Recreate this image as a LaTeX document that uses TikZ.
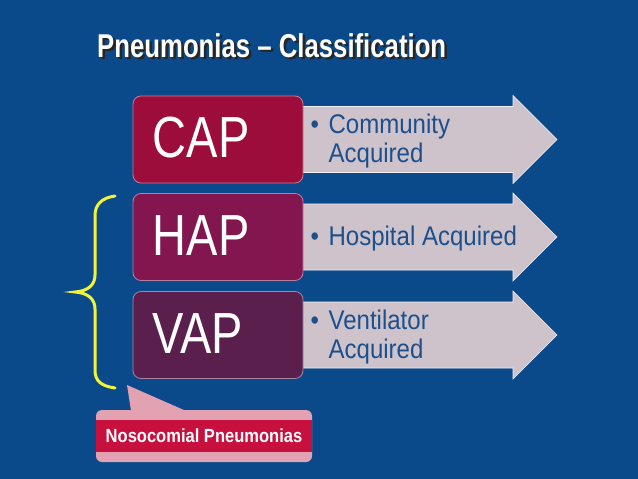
\documentclass[tikz,border=0pt]{standalone}
\usepackage{fontspec}
\setmainfont{Liberation Sans}
\newfontfamily\boxfont[FakeStretch=0.81]{Liberation Sans}
\newfontfamily\itemfont[FakeStretch=0.89]{Liberation Sans}
\newfontfamily\headfont[FakeStretch=0.78]{Liberation Sans}
\newfontfamily\notefont[FakeStretch=0.87]{Liberation Sans}
\usetikzlibrary{positioning}
\definecolor{SlideBlue}{HTML}{0B4A8A}
\definecolor{CapRed}{HTML}{9C0D3B}
\definecolor{HapPlum}{HTML}{83164F}
\definecolor{VapPurple}{HTML}{5B1F4E}
\definecolor{ArrowGray}{HTML}{CEC3CB}
\definecolor{ItemBlue}{HTML}{1C4F8C}
\definecolor{BraceYellow}{HTML}{F2F23A}
\definecolor{NosoRed}{HTML}{C8103E}
\definecolor{NosoPink}{HTML}{E2A2B2}
\newcommand{\shadowed}[1]{\makebox[0pt][l]{\hspace*{2.5pt}\raisebox{-2.5pt}{\color{black!85}#1}}#1}
\tikzset{
  typebox/.style={rounded corners=8pt, minimum width=170pt, minimum height=87pt, inner sep=0pt, draw=#1!55!white, line width=0.8pt, fill=#1},
  typelabel/.style={anchor=base west, text=white, inner sep=0pt, font=\boxfont\fontsize{58}{58}\selectfont},
  arrowbody/.style={fill=ArrowGray, draw=white!75!ArrowGray, line width=0.6pt},
  itemtext/.style={anchor=west, text=ItemBlue, align=left, inner sep=0pt, font=\itemfont\fontsize{27}{29}\selectfont},
  headtext/.style={anchor=base west, text=white, inner sep=0pt, font=\headfont\bfseries\fontsize{33}{33}\selectfont},
  bracestroke/.style={draw=BraceYellow, line width=3pt, line cap=round},
  notetext/.style={text=white, inner sep=0pt, font=\notefont\bfseries\fontsize{19}{19}\selectfont}
}

\begin{document}
\begin{tikzpicture}[x=1pt, y=-1pt]
  \fill[SlideBlue] (0,0) rectangle (638,479);
  \useasboundingbox (0,0) rectangle (638,479);

  % title with drop shadow
  \node[headtext] (title) at (97,57) {\shadowed{Pneumonias – Classification}};

  % arrows behind the boxes
  \foreach \c in {139.5,237,335} {
    \draw[arrowbody] (290,\c-33) -- (513,\c-33) -- (513,\c-44) -- (557,\c)
      -- (513,\c+44) -- (513,\c+33) -- (290,\c+33) -- cycle;
  }

  % boxes
  \node[typebox=CapRed] (cap) at (218,139.5) {};
  \node[typebox=HapPlum] (hap) at (218,237) {};
  \node[typebox=VapPurple] (vap) at (218,335) {};
  \node[typelabel] (caplabel) at ([xshift=20pt,yshift=-18pt]cap.west) {CAP};
  \node[typelabel] (haplabel) at ([xshift=20pt,yshift=-18pt]hap.west) {HAP};
  \node[typelabel] (vaplabel) at ([xshift=20pt,yshift=-18pt]vap.west) {VAP};

  \node[itemtext] (capitem) at ([xshift=7pt,yshift=-2pt]cap.east)
    {\makebox[18pt][l]{\textbullet}Community\\\hspace*{18pt}Acquired};
  \node[itemtext] (hapitem) at ([xshift=7pt,yshift=-2pt]hap.east)
    {\makebox[18pt][l]{\textbullet}Hospital Acquired};
  \node[itemtext] (vapitem) at ([xshift=7pt,yshift=-2pt]vap.east)
    {\makebox[18pt][l]{\textbullet}Ventilator\\\hspace*{18pt}Acquired};

  % brace over HAP and VAP
  \draw[bracestroke] (115,196) .. controls (101,198) and (95,205) .. (95,216) -- (95,275)
    .. controls (95,285) and (88,291) .. (75,292)
    .. controls (88,293) and (95,299) .. (95,309) -- (95,370)
    .. controls (95,381) and (101,386) .. (115,388);

  % callout
  \fill[NosoPink, rounded corners=6pt] (96,410) rectangle (312,462);
  \fill[NosoPink] (127,385) -- (185,410.5) -- (131,410.5) -- cycle;
  \fill[NosoRed] (96,420) rectangle (312,452);
  \node[notetext] (noso) at (204,436) {Nosocomial Pneumonias};
\end{tikzpicture}
\end{document}
